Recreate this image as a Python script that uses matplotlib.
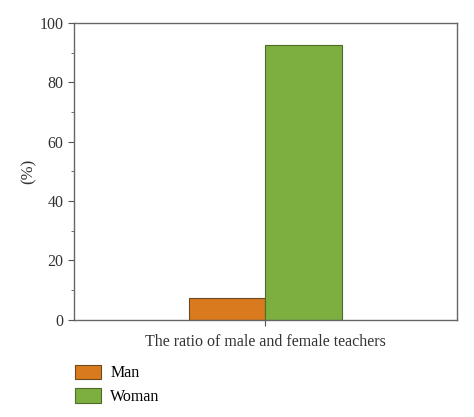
import matplotlib
matplotlib.use('Agg')
import matplotlib.pyplot as plt
from matplotlib.patches import Patch
from matplotlib.ticker import MultipleLocator

# data
groups = ['Man', 'Woman']
values = [7.5, 92.5]
colors = ['#DA7A1E', '#7CAF3F']
edges = ['#6b4a20', '#4f6b2c']
category = 'The ratio of male and female teachers'

plt.rcParams['font.family'] = ['Liberation Serif', 'DejaVu Serif']

fig = plt.figure(figsize=(4.74, 4.17), dpi=100)
ax = fig.add_axes([0.156, 0.233, 0.808, 0.712])

offsets = [-0.1, 0.1]
for g, v, c, e, o in zip(groups, values, colors, edges, offsets):
    ax.bar(o, v, width=0.2, color=c, edgecolor=e, linewidth=0.8, label=g)

ax.set_xlim(-0.5, 0.5)
ax.set_ylim(0, 100)
ax.set_xticks([0])
ax.set_xticklabels([category], fontsize=11.2, color='#333333')
ax.yaxis.set_major_locator(MultipleLocator(20))
ax.yaxis.set_minor_locator(MultipleLocator(10))
ax.tick_params(axis='both', which='major', direction='out', length=4, color='#555555',
               labelsize=11.5, labelcolor='#333333')
ax.tick_params(axis='x', which='major', pad=6)
ax.tick_params(axis='y', which='minor', direction='out', length=2, color='#555555')
ax.set_ylabel('(%)', fontsize=12, color='#333333', labelpad=2)
for s in ax.spines.values():
    s.set_color('#666666')
    s.set_linewidth(1.0)

handles = [Patch(facecolor=c, edgecolor=e, linewidth=0.8) for c, e in zip(colors, edges)]
fig.legend(handles, groups, loc='upper left', bbox_to_anchor=(0.128, 0.16),
           frameon=False, fontsize=11.5, handlelength=1.6, handleheight=1.0,
           labelspacing=0.45, handletextpad=0.6)

fig.savefig('out.png', dpi=100)
